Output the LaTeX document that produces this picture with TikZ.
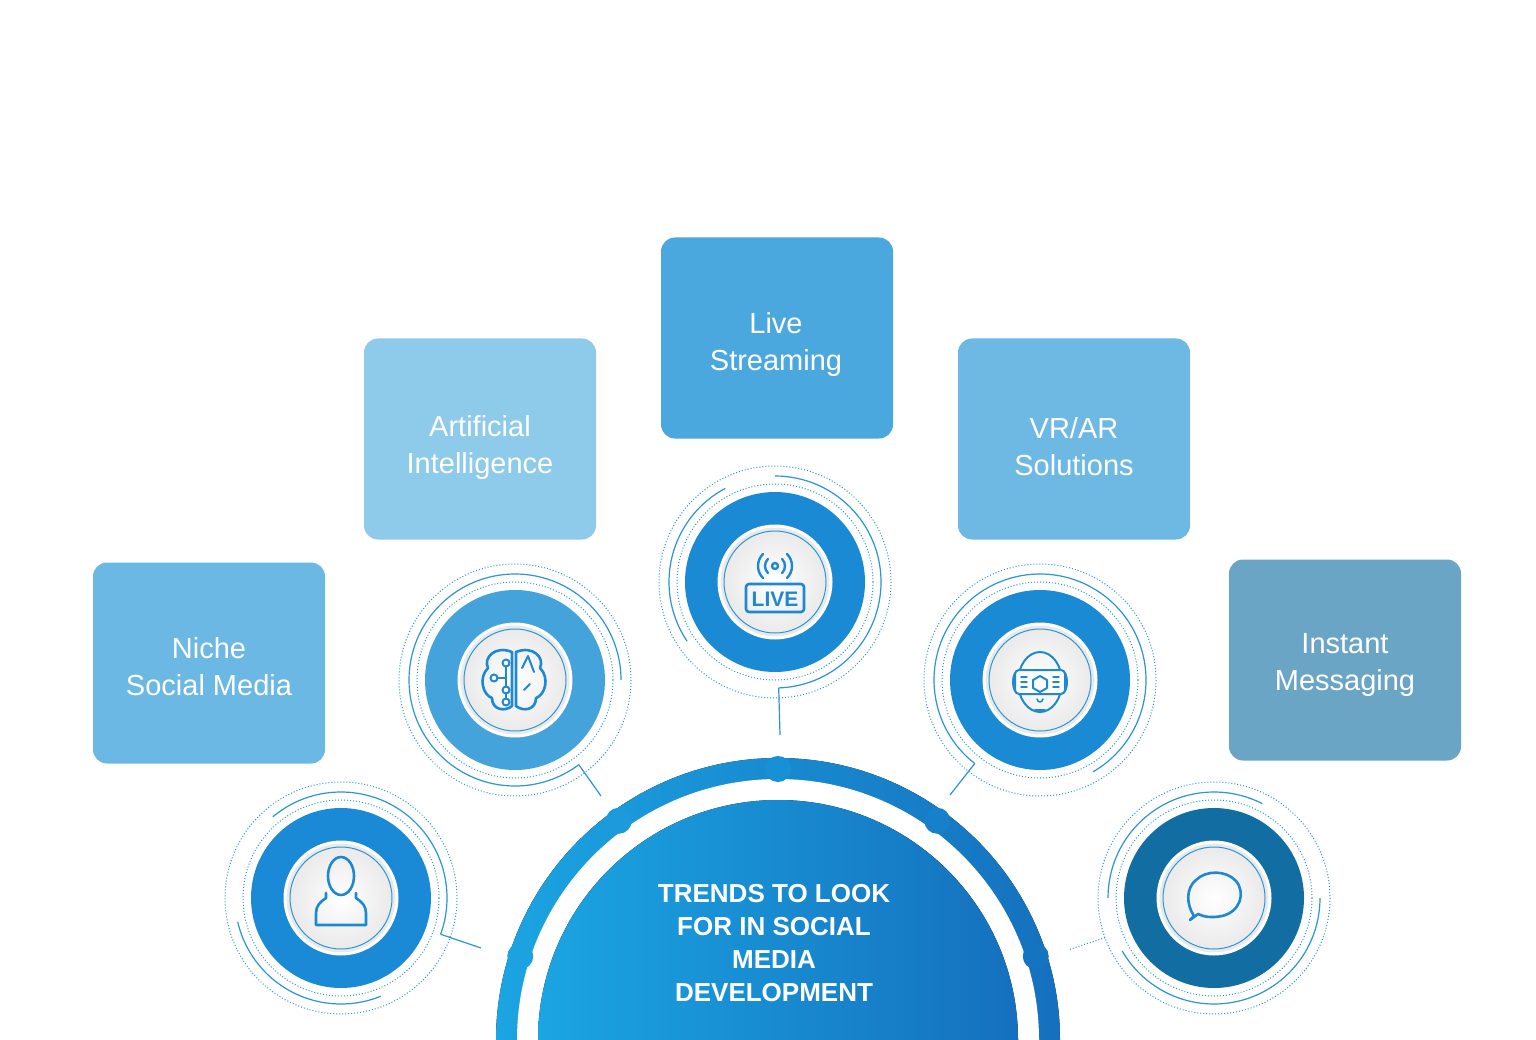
\documentclass[tikz,border=0pt]{standalone}
\usepackage{fontspec}
\setmainfont{Liberation Sans}
\usetikzlibrary{calc}
\definecolor{bl}{HTML}{1A8AD5}
\definecolor{ln}{HTML}{2A95D8}
\definecolor{ic}{HTML}{1E88D0}
\definecolor{gl}{HTML}{1BA5E2}
\definecolor{gr}{HTML}{1570BE}
\newcommand{\varc}[4]{\draw[ring] ($(#1)+(#2:#4 and -#4)$) arc[start angle=-#2,end angle=-#3,radius=#4];}
\begin{document}
\begin{tikzpicture}[x=1pt,y=-1pt,
  box/.style={rounded corners=14pt,minimum width=232pt,minimum height=201pt},
  lbl/.style={text=white,align=center,font=\fontsize{29}{37}\selectfont},
  disk/.style={circle,minimum size=180pt,inner sep=0pt},
  face/.style={circle,minimum size=112pt,inner sep=0pt,draw=white,line width=3pt,inner color=white,outer color=gray!18},
  ring/.style={draw=ln,line width=1.2pt},
  dots/.style={draw=ln,line width=1pt,dotted},
  conn/.style={draw=ln,line width=1.2pt},
  icon/.style={draw=ic,line width=2.6pt,line cap=round,line join=round}]
\useasboundingbox (0,0) rectangle (1536,1040);
\fill[white] (0,0) rectangle (1536,1040);
% boxes
\node[box,fill={rgb,255:red,108;green,184;blue,228}] (b1) at (209,663) {};
\node[lbl] (t1) at (209,667) {Niche\\Social Media};
\node[box,fill={rgb,255:red,142;green,202;blue,233}] (b2) at (480,439) {};
\node[lbl] (t2) at (480,448) {Artificial\\Intelligence};
\node[box,fill={rgb,255:red,75;green,168;blue,222}] (b3) at (777,338) {};
\node[lbl] (t3) at (776,345) {Live\\Streaming};
\node[box,fill={rgb,255:red,110;green,185;blue,227}] (b4) at (1074,439) {};
\node[lbl] (t4) at (1074,447) {VR/AR\\Solutions};
\node[box,fill={rgb,255:red,106;green,165;blue,198}] (b5) at (1345,660) {};
\node[lbl] (t5) at (1345,665) {Instant\\Messaging};
% big circle
\begin{scope}
\clip (0,0) rectangle (1536,1040);
\fill[left color=gl, right color=gr] (778,1040) circle (282);
\fill[white] (778,1040) circle (261);
\fill[left color=gl, right color=gr] (778,1040) circle (240);
\foreach \a/\c in {90/1890D6,126/1C9ADB,162/1BA2E0,54/1780CA,18/1574C0}{
  \definecolor{bc}{HTML}{\c}
  \fill[bc] ($(778,1040)+(\a:271 and -271)$) circle (13);}
\end{scope}
\node[text=white,align=center,font=\bfseries\fontsize{26}{33}\selectfont] (t) at (774,943) {TRENDS TO LOOK\\FOR IN SOCIAL\\MEDIA\\DEVELOPMENT};
% icon circles
\foreach \n/\x/\y/\c in {c1/341/898/1B8AD6,c2/515/680/45A3DC,c3/775/582/1A8AD5,c4/1040/680/1A8AD5,c5/1214/898/126DA3}{
  \definecolor{dc}{HTML}{\c}
  \fill[black!25,opacity=0.35] (\x+6,\y+6) circle (57);
  \node[disk,fill=dc] (\n) at (\x,\y) {};
  \node[face] (\n f) at (\x,\y) {};
  \draw[ln,line width=1pt] (\x,\y) circle (51);
  \draw[dots] (\x,\y) circle (116);
  \draw[dots] (\x,\y) circle (98);
}
% solid decorative arcs (visual angles)
\varc{c1}{130}{-20}{106}
\varc{c1}{193}{292}{106}
\varc{c2}{0}{307}{106}
\varc{c3}{118}{214}{106}
\varc{c3}{90}{-88}{106}
\varc{c4}{232}{-60}{106}
\varc{c5}{180}{63}{106}
\varc{c5}{0}{-150}{106}
% connectors
\coordinate (k1) at (481,948); \coordinate (k2) at (601,796); \coordinate (k3) at (780,735);
\coordinate (k4) at (950,795); \coordinate (k5) at (1068,950);
\draw[conn] ($(c1)+(-20:106 and -106)$) -- (k1);
\draw[conn] ($(c2)+(-53:106 and -106)$) -- (k2);
\draw[conn] ($(c3)+(-88:106 and -106)$) -- (k3);
\draw[conn] ($(c4)+(-128:106 and -106)$) -- (k4);
\draw[dots] ($(c5)+(200:116 and -116)$) -- (k5);
% icons
\draw[icon] (341,876) ellipse (13 and 19);
\draw[icon] (326,893) -- (326,898) .. controls (320,902) and (316,906) .. (316,913) -- (316,925) -- (366,925) -- (366,913) .. controls (366,906) and (362,902) .. (356,898) -- (356,893);
% brain
\draw[icon] (512,652) .. controls (495,645) and (483,658) .. (488,668) .. controls (478,678) and (483,695) .. (492,698) .. controls (492,710) and (505,712) .. (512,706) -- cycle;
\draw[icon] (516,652) .. controls (533,645) and (545,658) .. (540,668) .. controls (550,678) and (545,695) .. (536,698) .. controls (536,710) and (523,712) .. (516,706) -- cycle;
\draw[icon,line width=2pt] (506,660) -- (506,700) (494,678)--(506,678);
\foreach \p in {(506,663),(494,678),(506,690),(506,702)} \draw[icon,line width=2pt,fill=white] \p circle (3.5);
\draw[icon,line width=2pt] (522,668) -- (528,656) (528,656)--(534,672) (524,690)--(530,684);
% LIVE
\draw[icon,rounded corners=3pt] (746,584) rectangle (804,612);
\node[text=ic,font=\bfseries\fontsize{21}{21}\selectfont] (lv) at (775,599) {LIVE};
\draw[icon,line width=2.4pt] (775,566) circle (3);
\draw[icon,line width=2.4pt] ($(775,566)+(135:10 and -10)$) arc[start angle=-135,end angle=-225,radius=10];
\draw[icon,line width=2.4pt] ($(775,566)+(45:10 and -10)$) arc[start angle=-45,end angle=45,radius=10];
\draw[icon,line width=2.4pt] ($(775,566)+(135:17 and -17)$) arc[start angle=-135,end angle=-225,radius=17];
\draw[icon,line width=2.4pt] ($(775,566)+(45:17 and -17)$) arc[start angle=-45,end angle=45,radius=17];
% VR
\draw[icon,line width=2pt] (1040,682) ellipse (22 and 30);
\draw[icon,line width=2pt,fill=white] (1018,682) ellipse (5 and 11) (1062,682) ellipse (5 and 11);
\draw[icon,line width=2pt,rounded corners=4pt,fill=white] (1015,670) rectangle (1065,694);
\draw[icon,line width=2pt] (1040,676) -- (1047,680) -- (1047,688) -- (1040,692) -- (1033,688) -- (1033,680) -- cycle;
\draw[icon,line width=1.6pt] (1021,677)--(1027,677) (1021,682)--(1027,682) (1021,687)--(1027,687) (1053,677)--(1059,677) (1053,682)--(1059,682) (1053,687)--(1059,687) (1037,699) .. controls (1038,703) and (1042,703) .. (1043,699) (1035,710)--(1045,710);
% chat
\draw[icon] (1194,916) .. controls (1186,904) and (1186,888) .. (1196,880) .. controls (1206,870) and (1226,870) .. (1236,881) .. controls (1246,893) and (1240,912) .. (1222,916) .. controls (1212,918) and (1204,917) .. (1198,914) -- (1190,920) -- cycle;
\end{tikzpicture}
\end{document}
